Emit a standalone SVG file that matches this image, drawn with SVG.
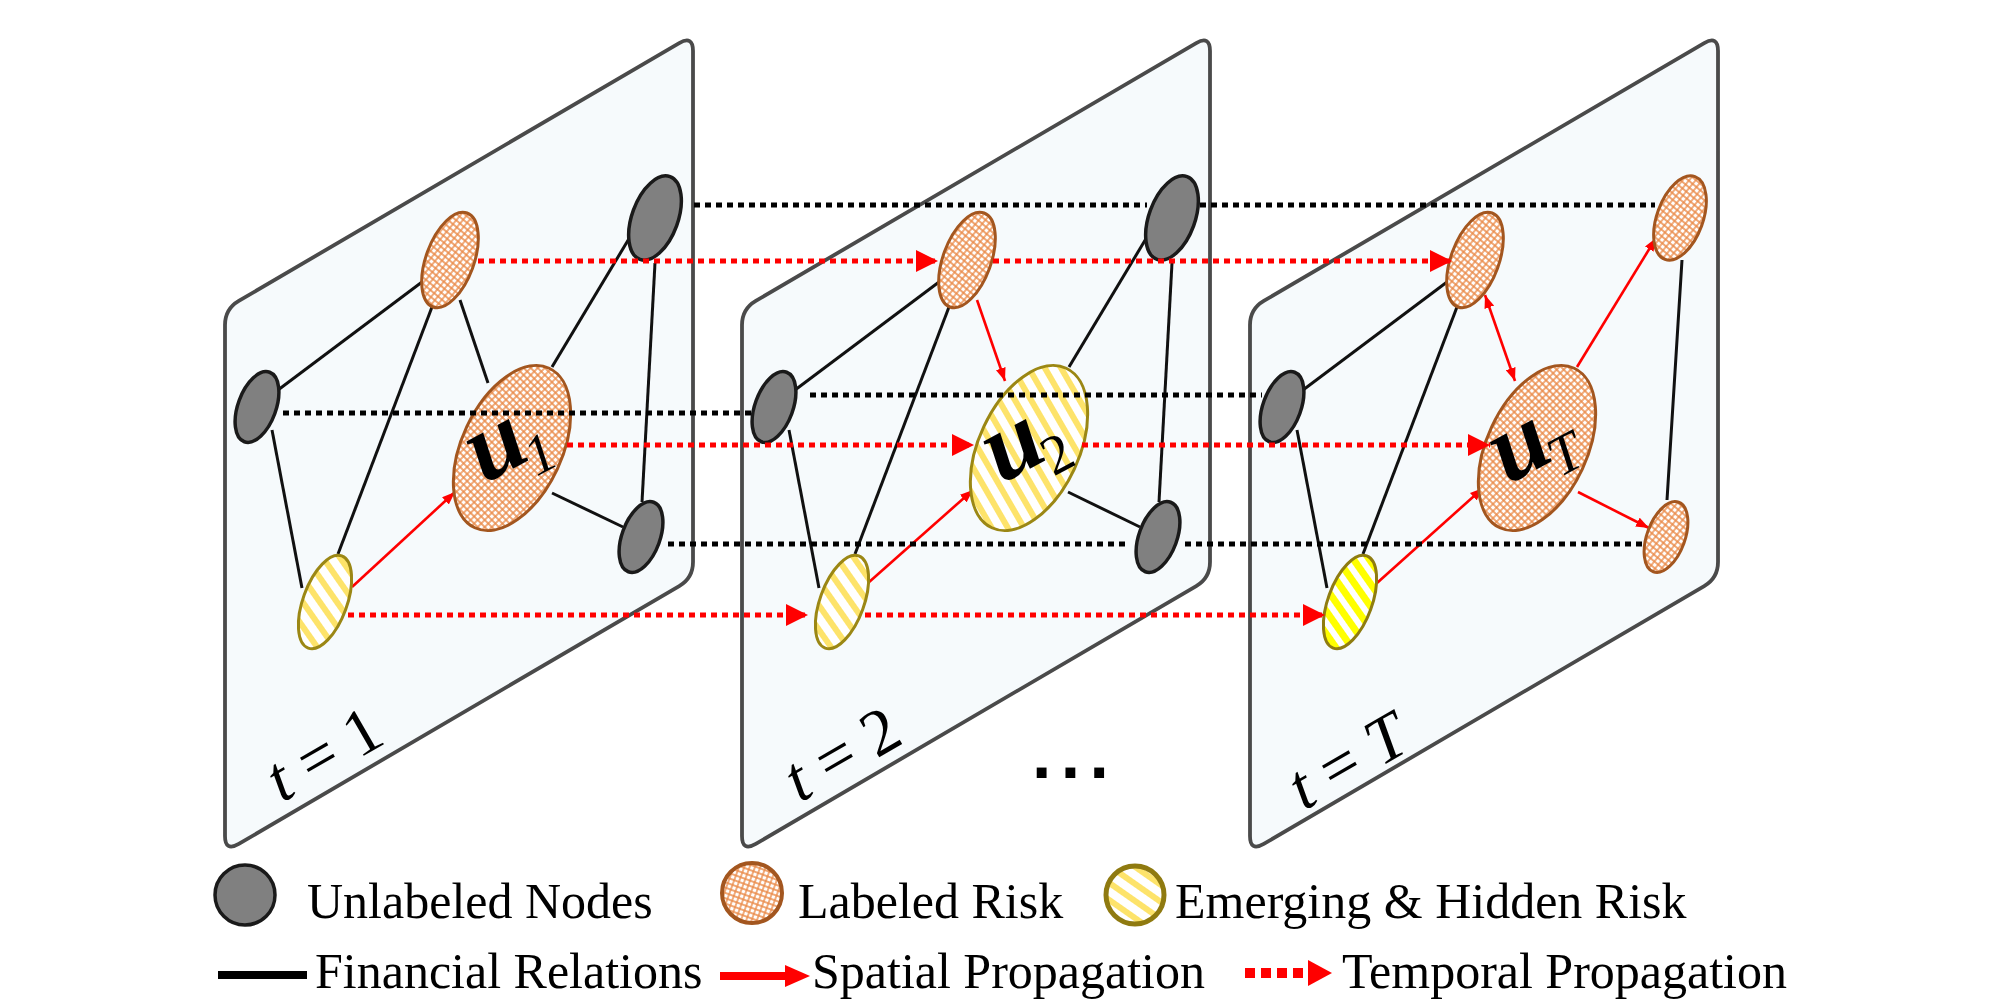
<svg xmlns="http://www.w3.org/2000/svg" width="2004" height="1000" viewBox="0 0 2004 1000">
<defs>
<style>
.panel{fill:#f6fafc;stroke:#4a4a4a;stroke-width:3.8}
.gray{fill:#808080;stroke:#1a1a1a;stroke-width:3.5}
.org{fill:url(#hatch);stroke:#a3561f;stroke-width:3}
.yel{fill:url(#stripe);stroke:#9b8714;stroke-width:3}
.yelB{fill:url(#stripeB);stroke:#8f7c10;stroke-width:3}
.edge{stroke:#111;stroke-width:3;fill:none}
.sp{stroke:#f00;stroke-width:2.6;fill:none;marker-end:url(#sA)}
.bdot{stroke:#000;stroke-width:5;stroke-dasharray:6 5;fill:none}
.rdot{stroke:#f00;stroke-width:5;stroke-dasharray:6 5;fill:none;marker-end:url(#tA)}
.lbl{font-family:"Liberation Serif","Times New Roman",serif;fill:#000}
.leg{font-family:"Liberation Serif","Times New Roman",serif;font-size:50px;fill:#000}
</style>
<pattern id="hatch" width="5" height="5" patternUnits="userSpaceOnUse" patternTransform="rotate(20)">
<rect width="5" height="5" fill="#fff"/>
<path d="M0,1 H5 M1,0 V5" stroke="#ea8a48" stroke-width="1.4"/>
</pattern>
<pattern id="stripe" width="14" height="14" patternUnits="userSpaceOnUse" patternTransform="rotate(35)">
<rect width="14" height="14" fill="#fff"/>
<rect width="14" height="6" fill="#fde36a"/>
</pattern>
<pattern id="stripeB" width="13" height="13" patternUnits="userSpaceOnUse" patternTransform="rotate(35)">
<rect width="13" height="13" fill="#fff"/>
<rect width="13" height="7" fill="#ffff00"/>
</pattern>
<marker id="tA" markerUnits="userSpaceOnUse" markerWidth="22" markerHeight="22" refX="22" refY="11" orient="auto">
<path d="M0,0 L22,11 L0,22 Z" fill="#f00"/>
</marker>
<marker id="sA" markerUnits="userSpaceOnUse" markerWidth="13" markerHeight="10" refX="13" refY="5" orient="auto-start-reverse">
<path d="M0,0 L13,5 L0,10 Z" fill="#f00"/>
</marker>
<marker id="sAb" markerUnits="userSpaceOnUse" markerWidth="16" markerHeight="12" refX="16" refY="6" orient="auto-start-reverse">
<path d="M0,0 L16,6 L0,12 Z" fill="#f00"/>
</marker>
<path id="pshape" d="M0,16 Q0,0 13.8,-8.1 L454.2,-265.9 Q468,-274 468,-258 L468,253 Q468,269 454.2,277.1 L13.8,534.9 Q0,543 0,527 Z"/>
</defs>
<rect width="2004" height="1000" fill="#fff"/>

<g id="panels">
<use href="#pshape" class="panel" transform="translate(225,309)"/>
<use href="#pshape" class="panel" transform="translate(742,309)"/>
<use href="#pshape" class="panel" transform="translate(1250,309)"/>
</g>

<g id="panel-labels" class="lbl" font-size="66">
<text transform="translate(282,803) rotate(-30)"><tspan font-style="italic">t</tspan> = 1</text>
<text transform="translate(800,803) rotate(-30)"><tspan font-style="italic">t</tspan> = 2</text>
<text transform="translate(1304,811) rotate(-30)"><tspan font-style="italic">t</tspan> = <tspan font-style="italic">T</tspan></text>
<text x="1031" y="778" font-family="DejaVu Sans, sans-serif" font-size="56" font-weight="bold" letter-spacing="7.5">...</text>
</g>

<g id="connectors">
<line class="edge" x1="278" y1="390" x2="422" y2="282"/>
<line class="edge" x1="272" y1="430" x2="302" y2="588"/>
<line class="edge" x1="432" y1="307" x2="338" y2="554"/>
<line class="edge" x1="460" y1="300" x2="488" y2="383" stroke-width="4"/>
<line class="edge" x1="630" y1="237" x2="552" y2="367"/>
<line class="edge" x1="655" y1="263" x2="642" y2="502"/>
<line class="edge" x1="552" y1="493" x2="623" y2="527" stroke-width="5"/>
<line class="sp" x1="352" y1="587" x2="455" y2="492"/>
<line class="edge" x1="795" y1="390" x2="939" y2="282"/>
<line class="edge" x1="789" y1="430" x2="819" y2="588"/>
<line class="edge" x1="949" y1="307" x2="855" y2="554"/>
<line class="edge" x1="1147" y1="237" x2="1069" y2="367"/>
<line class="edge" x1="1172" y1="263" x2="1159" y2="502"/>
<line class="edge" x1="1068" y1="492" x2="1140" y2="527"/>
<line class="sp" x1="977" y1="300" x2="1005" y2="381" stroke-width="3.5"/>
<line class="sp" x1="868" y1="583" x2="973" y2="490"/>
<line class="edge" x1="1303" y1="390" x2="1447" y2="282"/>
<line class="edge" x1="1297" y1="430" x2="1327" y2="588"/>
<line class="edge" x1="1457" y1="307" x2="1363" y2="554"/>
<line class="edge" x1="1682" y1="260" x2="1667" y2="500"/>
<line class="sp" x1="1485" y1="295" x2="1515" y2="381" stroke-width="3.5" marker-start="url(#sA)"/>
<line class="sp" x1="1577" y1="367" x2="1656" y2="238"/>
<line class="sp" x1="1578" y1="492" x2="1649" y2="528" stroke-width="4" marker-end="url(#sAb)"/>
<line class="sp" x1="1377" y1="583" x2="1483" y2="488"/>
</g>

<g id="node-p1-unlabeled-top"><ellipse cx="655" cy="218" rx="23" ry="44" transform="rotate(20 655 218)" class="gray"/></g>
<g id="node-p1-labeled-top"><ellipse cx="450" cy="260" rx="24" ry="50" transform="rotate(20 450 260)" class="org"/></g>
<g id="node-p1-unlabeled-left"><ellipse cx="257" cy="407" rx="19" ry="37" transform="rotate(20 257 407)" class="gray"/></g>
<g id="node-p1-u1"><ellipse cx="512" cy="448" rx="50" ry="88" transform="rotate(25 512 448)" class="org"/>
<text class="lbl" transform="translate(510,450) rotate(-28)" text-anchor="middle" y="18"><tspan font-size="100" font-style="italic" font-weight="bold">u</tspan><tspan font-size="56" font-style="italic" dx="-6" dy="18">1</tspan></text></g>
<g id="node-p1-hidden"><ellipse cx="325" cy="602" rx="22" ry="49" transform="rotate(20 325 602)" class="yel"/></g>
<g id="node-p1-unlabeled-br"><ellipse cx="641" cy="537" rx="19" ry="37" transform="rotate(20 641 537)" class="gray"/></g>

<g id="node-p2-unlabeled-top"><ellipse cx="1172" cy="218" rx="23" ry="44" transform="rotate(20 1172 218)" class="gray"/></g>
<g id="node-p2-labeled-top"><ellipse cx="967" cy="260" rx="24" ry="50" transform="rotate(20 967 260)" class="org"/></g>
<g id="node-p2-unlabeled-left"><ellipse cx="774" cy="407" rx="19" ry="37" transform="rotate(20 774 407)" class="gray"/></g>
<g id="node-p2-u2"><ellipse cx="1029" cy="448" rx="50" ry="88" transform="rotate(25 1029 448)" class="yel"/>
<text class="lbl" transform="translate(1027,450) rotate(-28)" text-anchor="middle" y="18"><tspan font-size="100" font-style="italic" font-weight="bold">u</tspan><tspan font-size="56" dx="-6" dy="18">2</tspan></text></g>
<g id="node-p2-hidden"><ellipse cx="842" cy="602" rx="22" ry="49" transform="rotate(20 842 602)" class="yel"/></g>
<g id="node-p2-unlabeled-br"><ellipse cx="1158" cy="537" rx="19" ry="37" transform="rotate(20 1158 537)" class="gray"/></g>

<g id="node-p3-labeled-tr"><ellipse cx="1680" cy="218" rx="23" ry="44" transform="rotate(20 1680 218)" class="org"/></g>
<g id="node-p3-labeled-top"><ellipse cx="1475" cy="260" rx="24" ry="50" transform="rotate(20 1475 260)" class="org"/></g>
<g id="node-p3-unlabeled-left"><ellipse cx="1282" cy="407" rx="19" ry="37" transform="rotate(20 1282 407)" class="gray"/></g>
<g id="node-p3-uT"><ellipse cx="1537" cy="448" rx="50" ry="88" transform="rotate(25 1537 448)" class="org"/>
<text class="lbl" transform="translate(1535,450) rotate(-28)" text-anchor="middle" y="18"><tspan font-size="100" font-style="italic" font-weight="bold">u</tspan><tspan font-size="56" font-style="italic" dx="-6" dy="18">T</tspan></text></g>
<g id="node-p3-hidden"><ellipse cx="1350" cy="602" rx="22" ry="49" transform="rotate(20 1350 602)" class="yelB"/></g>
<g id="node-p3-labeled-br"><ellipse cx="1666" cy="537" rx="19" ry="37" transform="rotate(20 1666 537)" class="org"/></g>

<g id="temporal-connectors">
<line class="bdot" x1="694" y1="205" x2="1147" y2="205"/>
<line class="bdot" x1="1200" y1="205" x2="1655" y2="205"/>
<line class="bdot" x1="283" y1="413" x2="754" y2="413"/>
<line class="bdot" x1="810" y1="395" x2="1262" y2="395"/>
<line class="bdot" x1="668" y1="544" x2="1127" y2="544"/>
<line class="bdot" x1="1185" y1="544" x2="1644" y2="544"/>
<line class="rdot" x1="478" y1="261" x2="938" y2="261"/>
<line class="rdot" x1="993" y1="261" x2="1452" y2="261"/>
<line class="rdot" x1="567" y1="445" x2="974" y2="445"/>
<line class="rdot" x1="1082" y1="445" x2="1490" y2="445"/>
<line class="rdot" x1="348" y1="615" x2="808" y2="615"/>
<line class="rdot" x1="865" y1="615" x2="1325" y2="615"/>
</g>

<g id="legend">
<circle cx="245" cy="895" r="30" class="gray" stroke-width="3"/>
<text class="leg" x="307" y="918">Unlabeled Nodes</text>
<circle cx="752" cy="893" r="30" fill="url(#hatch)" stroke="#a3561f" stroke-width="4"/>
<text class="leg" x="798" y="918">Labeled Risk</text>
<circle cx="1135" cy="895" r="29" fill="url(#stripe)" stroke="#8f7a10" stroke-width="5"/>
<text class="leg" x="1175" y="918">Emerging &amp; Hidden Risk</text>
<line x1="218" y1="975" x2="307" y2="975" stroke="#000" stroke-width="8"/>
<text class="leg" x="315" y="988">Financial Relations</text>
<line x1="720" y1="976" x2="790" y2="976" stroke="#f00" stroke-width="8"/>
<path d="M785,965 L810,976 L785,987 Z" fill="#f00"/>
<text class="leg" x="812" y="988">Spatial Propagation</text>
<line x1="1245" y1="973" x2="1305" y2="973" stroke="#f00" stroke-width="10" stroke-dasharray="10 6"/>
<path d="M1308,960 L1332,973 L1308,986 Z" fill="#f00"/>
<text class="leg" x="1342" y="988">Temporal Propagation</text>
</g>
</svg>
